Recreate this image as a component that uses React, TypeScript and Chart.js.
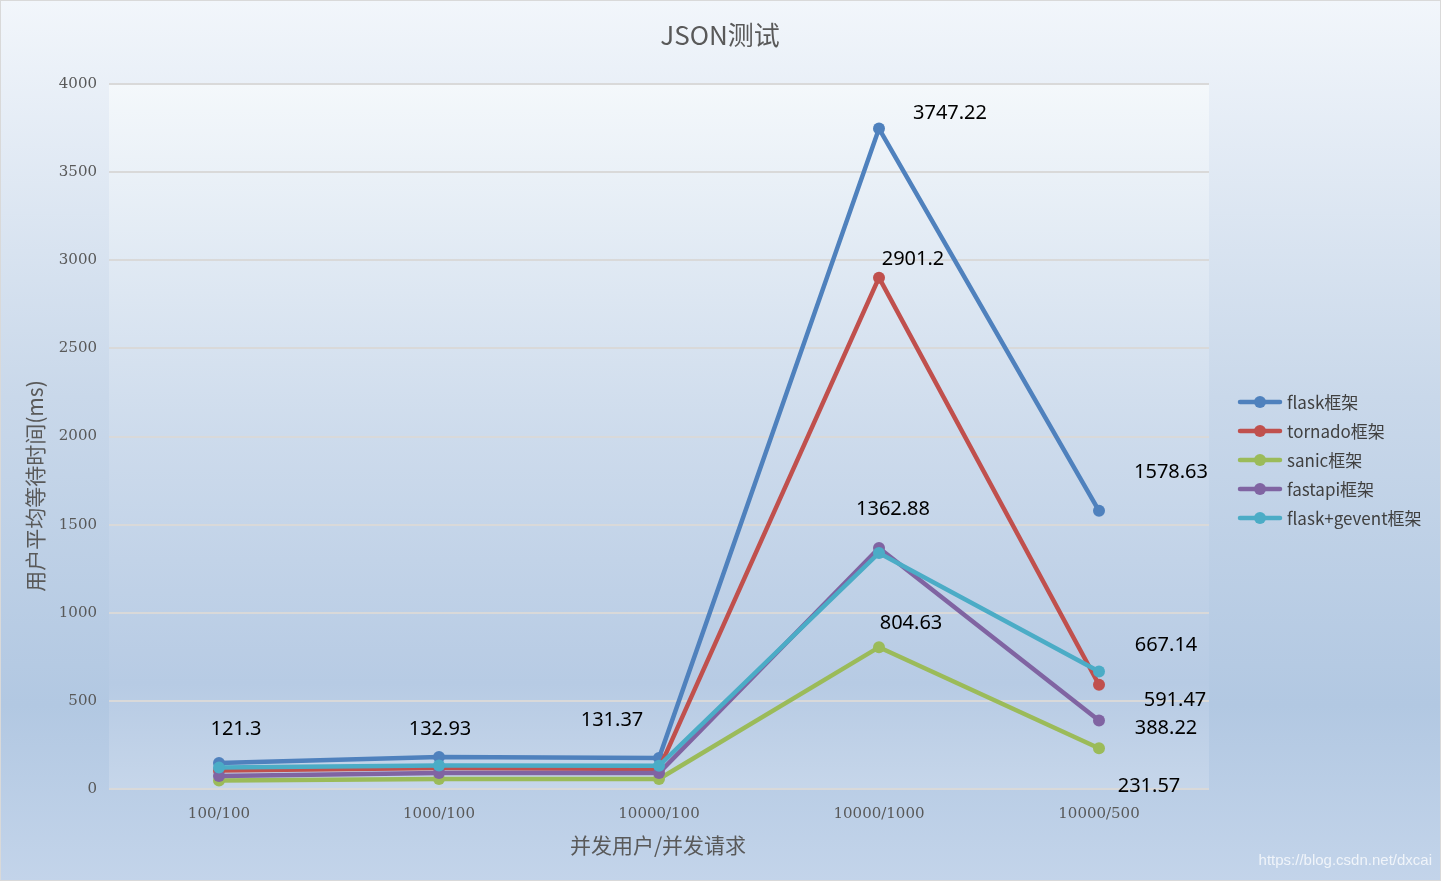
import React, { useEffect, useRef } from "react";
import { Chart, registerables } from "chart.js";

Chart.register(...registerables);

const categories = ["100/100", "1000/100", "10000/100", "10000/1000", "10000/500"];
const seriesNames = ["flask框架", "tornado框架", "sanic框架", "fastapi框架", "flask+gevent框架"];
const flaskValues = [147, 181, 176, 3747.22, 1578.63];
const tornadoValues = [105, 119, 113, 2901.2, 591.47];
const sanicValues = [48, 57, 57, 804.63, 231.57];
const fastapiValues = [74, 91, 91, 1367, 388.22];
const geventValues = [121.3, 132.93, 131.37, 1339, 667.14];
const seriesColors = ["#4f81bd", "#c0504d", "#9bbb59", "#8064a2", "#4bacc6"];
const yTicks = [0, 500, 1000, 1500, 2000, 2500, 3000, 3500, 4000];

const chartTitle = "JSON测试";
const xTitle = "并发用户/并发请求";
const yTitle = "用户平均等待时间(ms)";
const watermark = "https://blog.csdn.net/dxcai";

// data labels: [series index, category index, text]
const dataLabels: [number, number, string][] = [
  [4, 0, "121.3"],
  [4, 1, "132.93"],
  [4, 2, "131.37"],
  [0, 3, "3747.22"],
  [1, 3, "2901.2"],
  [3, 3, "1362.88"],
  [2, 3, "804.63"],
  [0, 4, "1578.63"],
  [4, 4, "667.14"],
  [1, 4, "591.47"],
  [3, 4, "388.22"],
  [2, 4, "231.57"],
];
// label offsets from their point (dx, dy) in pixels
const labelOffsets: [number, number][] = [
  [17, -38],
  [1, -36],
  [-47, -46],
  [71, -15],
  [34, -18],
  [14, -39],
  [32, -24],
  [72, -38],
  [67, -26],
  [76, 16],
  [67, 8],
  [50, 38],
];

const seriesValues = [flaskValues, tornadoValues, sanicValues, fastapiValues, geventValues];

const decorPlugin = {
  id: "decor",
  beforeDraw(chart: any) {
    const { ctx, width, height, chartArea } = chart;
    ctx.save();
    const g = ctx.createLinearGradient(0, 0, 0, height);
    g.addColorStop(0, "#f2f6fb");
    g.addColorStop(0.45, "#c9d8ea");
    g.addColorStop(0.8, "#b2c8e2");
    g.addColorStop(1, "#c3d4ea");
    ctx.fillStyle = g;
    ctx.fillRect(0, 0, width, height);
    const a = chartArea;
    const g2 = ctx.createLinearGradient(0, a.top, 0, a.bottom);
    g2.addColorStop(0, "#f4f8fb");
    g2.addColorStop(0.5, "#cddbec");
    g2.addColorStop(0.85, "#b7cbe4");
    g2.addColorStop(1, "#c6d6ea");
    ctx.fillStyle = g2;
    ctx.fillRect(a.left, a.top, a.right - a.left, a.bottom - a.top);
    ctx.strokeStyle = "#d9d9d9";
    ctx.lineWidth = 1;
    ctx.strokeRect(0.5, 0.5, width - 1, height - 1);
    ctx.restore();
  },
  afterDraw(chart: any) {
    const { ctx, chartArea } = chart;
    ctx.save();
    // title
    ctx.fillStyle = "#595959";
    ctx.font = "26px 'Noto Sans CJK SC', 'Noto Sans', sans-serif";
    ctx.textAlign = "center";
    ctx.textBaseline = "middle";
    ctx.fillText(chartTitle, 720, 35);
    // axis titles
    ctx.font = "21px 'Noto Sans CJK SC', sans-serif";
    ctx.fillText(xTitle, (chartArea.left + chartArea.right) / 2 - 1, 845);
    ctx.save();
    ctx.translate(35, 486);
    ctx.rotate(-Math.PI / 2);
    ctx.fillText(yTitle, 0, 0);
    ctx.restore();
    // data labels
    ctx.fillStyle = "#000000";
    ctx.font = "20px 'Noto Sans', sans-serif";
    dataLabels.forEach(([s, i, text], k) => {
      const meta = chart.getDatasetMeta(s);
      const pt = meta.data[i];
      const [dx, dy] = labelOffsets[k];
      ctx.fillText(text, pt.x + dx, pt.y + dy);
    });
    // legend
    ctx.textAlign = "left";
    ctx.font = "17px 'Noto Sans CJK SC', sans-serif";
    seriesNames.forEach((name, i) => {
      const y = 402 + 29 * i;
      ctx.strokeStyle = seriesColors[i];
      ctx.lineWidth = 4.5;
      ctx.lineCap = "round";
      ctx.beginPath();
      ctx.moveTo(1240, y);
      ctx.lineTo(1280, y);
      ctx.stroke();
      ctx.fillStyle = seriesColors[i];
      ctx.beginPath();
      ctx.arc(1260, y, 6, 0, Math.PI * 2);
      ctx.fill();
      ctx.fillStyle = "#404040";
      ctx.fillText(name, 1287, y + 1);
    });
    // watermark
    ctx.fillStyle = "rgba(255,255,255,0.75)";
    ctx.font = "15px 'Liberation Sans', Arial, sans-serif";
    ctx.textAlign = "right";
    ctx.fillText(watermark, 1432, 861);
    ctx.restore();
  },
};

export default function App() {
  const canvasRef = useRef<HTMLCanvasElement | null>(null);

  useEffect(() => {
    if (!canvasRef.current) return;
    const datasets = seriesNames.map((name, i) => ({
      label: name,
      data: seriesValues[i],
      borderColor: seriesColors[i],
      backgroundColor: seriesColors[i],
      pointBackgroundColor: seriesColors[i],
      pointBorderColor: seriesColors[i],
      borderWidth: 4.5,
      pointRadius: 6,
      pointBorderWidth: 0,
      tension: 0,
      order: seriesNames.length - i,
    }));
    const chart = new Chart(canvasRef.current, {
      type: "line",
      data: { labels: categories, datasets },
      options: {
        responsive: false,
        maintainAspectRatio: false,
        animation: false,
        layout: { padding: { top: 84, right: 232, bottom: 52, left: 0 } },
        plugins: {
          legend: { display: false },
          title: { display: false },
          tooltip: { enabled: false },
        },
        scales: {
          x: {
            type: "category",
            offset: true,
            grid: { display: false, drawTicks: false },
            border: { display: false },
            ticks: {
              padding: 16,
              color: "#595959",
              font: { family: "'DejaVu Serif', serif", size: 15 },
              maxRotation: 0,
            },
            afterFit: (s: any) => {
              s.height = 40;
            },
          },
          y: {
            min: 0,
            max: 4000,
            afterBuildTicks: (s: any) => {
              s.ticks = yTicks.map((v) => ({ value: v }));
            },
            grid: { color: "#d9d9d9", lineWidth: 2, drawTicks: false },
            border: { display: false },
            ticks: {
              padding: 12,
              color: "#595959",
              font: { family: "'DejaVu Serif', serif", size: 15 },
              callback: (v: any) => String(v),
            },
            afterFit: (s: any) => {
              s.width = 109;
            },
          },
        },
      },
      plugins: [decorPlugin],
    });
    return () => chart.destroy();
  }, []);

  return (
    <div style={{ position: "absolute", left: 0, top: 0, width: 1441, height: 881 }}>
      <canvas ref={canvasRef} width={1441} height={881} style={{ display: "block" }} />
    </div>
  );
}
